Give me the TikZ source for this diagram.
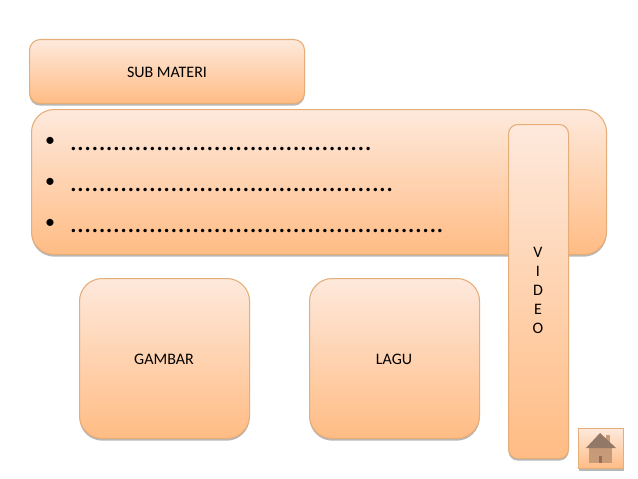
\documentclass[tikz,border=0pt]{standalone}
\usepackage{fontspec}
\setmainfont{Carlito}
\usetikzlibrary{shadows}
\definecolor{topc}{HTML}{FEE9DC}
\definecolor{botc}{HTML}{FFBC84}
\definecolor{edgec}{HTML}{E5AD78}
\definecolor{roofc}{HTML}{927866}
\definecolor{wallc}{HTML}{C79A78}
\definecolor{doorc}{HTML}{946F54}
\tikzset{
  panel/.style={draw=edgec,line width=0.8pt,top color=topc,bottom color=botc,
    drop shadow={shadow xshift=0pt,shadow yshift=-1.6pt,fill=black,opacity=0.28},
    text=black,inner sep=0pt,anchor=north west,align=center},
  lbl/.style={font=\fontsize{12}{14.2}\selectfont},
  dotline/.style={anchor=base west,inner sep=0pt,font=\fontsize{21.4}{24}\selectfont},
  bul/.style={anchor=base,inner sep=0pt,font=\fontsize{15}{15}\selectfont}
}
\begin{document}
\begin{tikzpicture}[x=0.75pt,y=-0.75pt]
\useasboundingbox[fill=white] (0,0) rectangle (638,478);
\node[panel,rounded corners=8pt,minimum width=206.25pt,minimum height=48pt] (sub) at (29,39) {};
\node[lbl,anchor=center] (subt) at (167,72.5) {SUB MATERI};
\node[panel,rounded corners=17pt,minimum width=431.25pt,minimum height=108.75pt] (main) at (31,109) {};
\node[bul] (b1) at (50,146.5) {•};
\node[bul] (b2) at (50,187.5) {•};
\node[bul] (b3) at (50,228.5) {•};
\node[dotline] (d1) at (69.5,150) {..........................................};
\node[dotline] (d2) at (69.5,191) {.............................................};
\node[dotline] (d3) at (69.5,232) {....................................................};
\node[panel,rounded corners=7pt,minimum width=45pt,minimum height=250.5pt] (video) at (508,124) {};
\node[lbl,anchor=center,align=center] (vt) at (538,290.5) {V\\I\\D\\E\\O};
\node[panel,rounded corners=17pt,minimum width=127.5pt,minimum height=120pt] (gambar) at (79,278) {};
\node[lbl,anchor=center] (gt) at (164,359) {GAMBAR};
\node[panel,rounded corners=17pt,minimum width=127.5pt,minimum height=120pt] (lagu) at (309,278) {};
\node[lbl,anchor=center] (lt) at (394,359) {LAGU};
\node[panel,minimum width=33.75pt,minimum height=30pt] (home) at (578,428) {};
\fill[wallc] (589,447) rectangle (612,463);
\fill[doorc] (598.5,456) rectangle (602,463);
\fill[wallc] (606,435) rectangle (610,444);
\fill[roofc] (586,448) -- (600,433) -- (616,448) -- cycle;
\end{tikzpicture}
\end{document}
